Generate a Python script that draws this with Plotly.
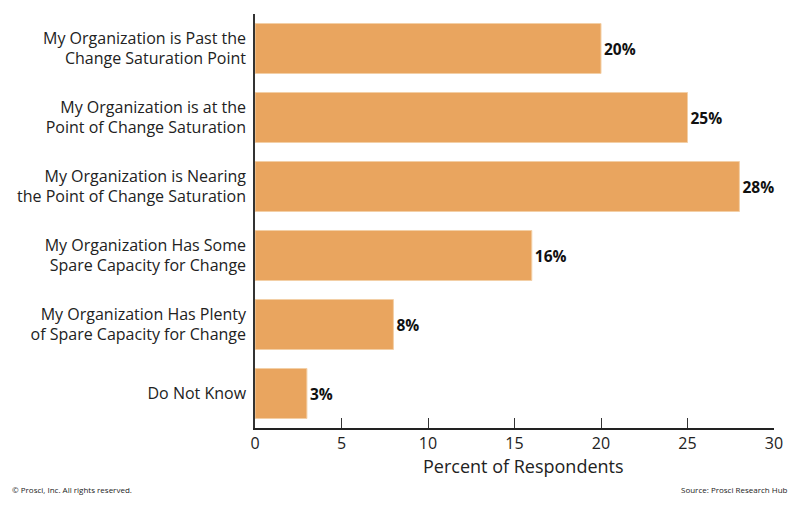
import plotly.graph_objects as go

categories = [
    "My Organization is Past the<br>Change Saturation Point",
    "My Organization is at the<br>Point of Change Saturation",
    "My Organization is Nearing<br>the Point of Change Saturation",
    "My Organization Has Some<br>Spare Capacity for Change",
    "My Organization Has Plenty<br>of Spare Capacity for Change",
    "Do Not Know",
]
values = [20, 25, 28, 16, 8, 3]
labels = ["20%", "25%", "28%", "16%", "8%", "3%"]
x_ticks = [0, 5, 10, 15, 20, 25, 30]

# page has an 8px body margin, so the figure is sized to fill the rest of the window
W, H = 792, 502
L, R, T, B = 247, 26, 6, 82

fig = go.Figure()
fig.add_trace(go.Bar(
    x=values, y=categories, orientation="h",
    marker=dict(color="#E9A55F", line=dict(color="#F3CFA6", width=1)),
    text=labels, textposition="outside", cliponaxis=False,
    textfont=dict(family="Open Sans", size=15.5, color="#111111", weight="bold"),
    hoverinfo="skip",
))

plot_h = H - T - B
plot_w = W - L - R
fy = -(489 - 428) / plot_h

fig.update_layout(
    width=W, height=H,
    margin=dict(l=L, r=R, t=T, b=B),
    paper_bgcolor="white", plot_bgcolor="white",
    bargap=0.275, showlegend=False,
    font=dict(family="Open Sans", color="#222222"),
    xaxis=dict(
        range=[0, 30], tickvals=x_ticks, ticks="inside", ticklen=10,
        tickcolor="#333333", tickwidth=1.2,
        showgrid=False, zeroline=False, showline=True, linecolor="#222222", linewidth=1.5,
        tickfont=dict(family="Open Sans", size=16, color="#222222"),
    ),
    yaxis=dict(
        autorange="reversed", showgrid=False, zeroline=False,
        showline=True, linecolor="#333333", linewidth=1.5, ticks="",
        ticklabelstandoff=4,
        tickfont=dict(family="Open Sans", size=16, color="#222222"),
    ),
    annotations=[
        dict(text="Percent of Respondents", x=(523 - 255) / plot_w, y=-(466 - 428) / plot_h,
             xref="paper", yref="paper", showarrow=False,
             font=dict(family="Open Sans", size=18, color="#222222"),
             xanchor="center", yanchor="middle"),
        dict(text="© Prosci, Inc. All rights reserved.", x=(10 - 255) / plot_w, y=fy,
             xref="paper", yref="paper",
             showarrow=False, font=dict(family="Open Sans", size=8, color="#222222"),
             xanchor="left", yanchor="middle"),
        dict(text="Source: Prosci Research Hub", x=(790 - 255) / plot_w, y=fy,
             xref="paper", yref="paper",
             showarrow=False, font=dict(family="Open Sans", size=8, color="#222222"),
             xanchor="right", yanchor="middle"),
    ],
)

fig.write_html("out.html")
